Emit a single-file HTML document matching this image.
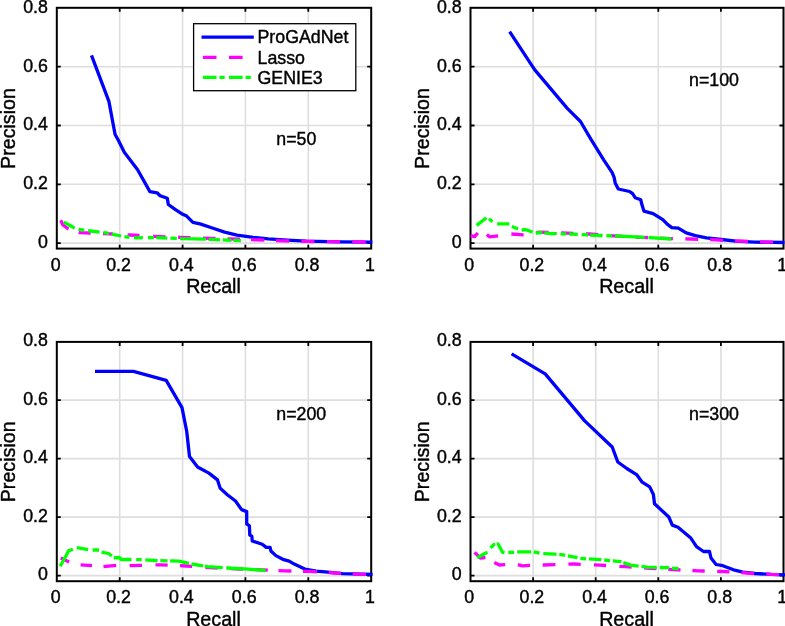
<!DOCTYPE html>
<html lang="en"><head><meta charset="utf-8"><title>Precision-Recall curves</title>
<style>html,body{margin:0;padding:0;background:#fff}body{width:785px;height:626px;overflow:hidden}svg{display:block}text{font-family:"Liberation Sans",Arial,Helvetica,sans-serif;fill:#000;stroke:#000;stroke-width:0.4px}.t{font-size:17.8px}.l{font-size:19.7px}.g{stroke:#dedede;stroke-width:1.6;fill:none}.k{stroke:#000;stroke-width:2;fill:none}.tk{stroke:#000;stroke-width:1.8;fill:none}.c{fill:none;stroke-width:3.3;stroke-linejoin:round}.b{stroke:#0000ff}.m{stroke:#ff00ff;stroke-dasharray:13 12}.gr{stroke:#00ff00;stroke-dasharray:11 3.5 5 3.5}.g2{stroke:#00ff00}.m2{stroke:#ff00ff}</style></head><body>
<svg width="785" height="626" viewBox="0 0 785 626">
<rect width="785" height="626" fill="#fff"/>
<path class="g" d="M119.7 7.8 V248.7 M182.6 7.8 V248.7 M245.4 7.8 V248.7 M308.3 7.8 V248.7 M56.8 243.1 H371.2 M56.8 184.3 H371.2 M56.8 125.5 H371.2 M56.8 66.7 H371.2"/>
<path class="tk" d="M119.7 248.7 v-4 M119.7 7.8 v4 M182.6 248.7 v-4 M182.6 7.8 v4 M245.4 248.7 v-4 M245.4 7.8 v4 M308.3 248.7 v-4 M308.3 7.8 v4 M56.8 243.1 h4 M371.2 243.1 h-4 M56.8 184.3 h4 M371.2 184.3 h-4 M56.8 125.5 h4 M371.2 125.5 h-4 M56.8 66.7 h4 M371.2 66.7 h-4"/>
<rect class="k" x="56.8" y="7.8" width="314.4" height="240.8"/>
<path class="c b" d="M91.5 55.3 L108.9 101.4 L115.1 134.5 L118.2 140.0 L124.3 152.3 L137.6 169.7 L149.9 191.6 L157.1 192.8 L160.1 195.7 L167.3 198.3 L168.3 204.5 L175.5 209.6 L181.6 213.7 L186.7 216.1 L192.9 222.3 L200.0 223.9 L212.3 228.0 L224.6 232.1 L236.9 235.1 L253.2 237.3 L268.2 238.8 L287.3 240.2 L306.4 241.2 L340.0 241.8 L372.4 242.1"/>
<path class="c m2" d="M60.7 220.2 L63.0 225.0 L67.7 228.5 L68.5 229.0 M78.6 232.4 L80.0 232.7 L90.0 233.0 L90.7 233.0 M103.0 233.5 L110.0 233.8 L113.0 234.0 M127.6 234.9 L130.0 235.0 L139.5 235.5 M153.0 236.3 L165.5 236.8 M178.0 237.2 L180.0 237.3 L190.5 237.7 M203.0 238.1 L212.0 238.4 L215.5 238.5 M227.5 238.8 L240.0 239.2 M251.0 239.7 L257.0 239.9 L264.4 240.2 M275.9 240.6 L282.0 240.8 L289.2 241.0 M301.4 241.3 L306.0 241.4 L314.4 241.5 M327.0 241.6 L340.0 241.8 M352.2 241.9 L365.8 242.0"/>
<path class="c g2" d="M63.9 222.1 L74.1 227.8 L74.7 228.0 M78.6 229.1 L80.5 229.7 L84.3 230.2 M88.1 230.7 L90.7 231.0 L99.6 232.1 M103.4 232.6 L106.0 232.9 L109.1 233.5 M111.7 234.1 L118.7 235.5 L121.2 236.0 M124.4 236.6 L126.3 237.0 L129.5 237.2 M134.0 237.6 L136.6 237.8 L142.9 237.7 M148.0 237.7 L153.8 237.6 M156.4 237.7 L167.2 238.1 M170.4 238.2 L176.8 238.4 M180.0 238.5 L181.6 238.6 L206.0 239.2 M208.6 239.3 L212.3 239.4 L220.0 239.8 M222.6 239.9 L231.5 240.3 M233.4 240.4 L240.9 240.7"/>
<text class="t" text-anchor="middle" x="55.6" y="270.8">0</text>
<text class="t" text-anchor="middle" x="118.5" y="270.8">0.2</text>
<text class="t" text-anchor="middle" x="181.4" y="270.8">0.4</text>
<text class="t" text-anchor="middle" x="244.2" y="270.8">0.6</text>
<text class="t" text-anchor="middle" x="307.1" y="270.8">0.8</text>
<text class="t" text-anchor="middle" x="370.0" y="270.8">1</text>
<text class="t" text-anchor="end" x="47.9" y="247.9">0</text>
<text class="t" text-anchor="end" x="47.9" y="189.1">0.2</text>
<text class="t" text-anchor="end" x="47.9" y="130.3">0.4</text>
<text class="t" text-anchor="end" x="47.9" y="71.5">0.6</text>
<text class="t" text-anchor="end" x="47.9" y="12.7">0.8</text>
<text class="l" text-anchor="middle" x="213.5" y="293.3">Recall</text>
<text class="l" text-anchor="middle" transform="translate(14.8 128.5) rotate(-90)">Precision</text>
<text class="t" x="276.3" y="145.0">n=50</text>
<path class="g" d="M533.1 7.8 V248.7 M595.7 7.8 V248.7 M658.3 7.8 V248.7 M720.9 7.8 V248.7 M470.5 243.1 H783.5 M470.5 184.3 H783.5 M470.5 125.5 H783.5 M470.5 66.7 H783.5"/>
<path class="tk" d="M533.1 248.7 v-4 M533.1 7.8 v4 M595.7 248.7 v-4 M595.7 7.8 v4 M658.3 248.7 v-4 M658.3 7.8 v4 M720.9 248.7 v-4 M720.9 7.8 v4 M470.5 243.1 h4 M783.5 243.1 h-4 M470.5 184.3 h4 M783.5 184.3 h-4 M470.5 125.5 h4 M783.5 125.5 h-4 M470.5 66.7 h4 M783.5 66.7 h-4"/>
<rect class="k" x="470.5" y="7.8" width="313.0" height="240.8"/>
<path class="c b" d="M509.6 31.7 L534.6 69.6 L567.3 108.4 L580.5 121.5 L590.7 138.9 L604.0 160.4 L612.2 172.6 L614.2 177.7 L615.2 182.9 L618.3 189.0 L629.6 191.5 L632.6 193.7 L635.3 197.8 L640.8 199.8 L641.8 204.3 L643.9 211.1 L653.1 213.6 L662.8 219.6 L667.2 224.2 L671.8 227.6 L678.3 228.1 L686.2 232.9 L695.4 235.6 L706.5 237.9 L721.3 239.5 L736.0 241.2 L754.5 242.1 L784.5 242.5"/>
<path class="c m2" d="M470.6 235.6 L474.7 236.6 L477.7 233.0 M486.9 234.6 L489.5 236.8 L498.1 235.8 M511.4 234.0 L523.6 234.8 M536.2 232.7 L539.4 232.2 L548.6 232.5 M561.1 233.0 L566.9 233.2 L573.5 233.4 M585.9 233.9 L589.3 234.0 L598.3 234.7 M610.8 235.7 L613.8 235.9 L623.2 236.4 M635.6 237.1 L640.0 237.3 L648.0 237.6 M660.5 238.2 L671.0 238.6 L672.9 238.6 M685.3 238.9 L691.0 239.0 L698.2 239.3 M710.2 239.7 L716.0 239.9 L723.1 240.3 M735.1 240.9 L741.0 241.2 L748.0 241.5 M760.0 241.9 L766.0 242.1 L773.0 242.2"/>
<path class="c g2" d="M476.7 225.4 L486.4 217.7 M489.0 218.8 L492.5 221.8 M497.1 223.9 L509.3 223.9 M511.9 226.4 L518.0 229.0 M521.6 230.0 L526.1 229.7 L532.3 232.0 L532.6 232.1 M535.7 233.0 L535.8 233.0 L542.4 232.7 M544.3 232.9 L550.6 233.6 L556.8 233.7 M560.6 233.8 L566.3 233.9 M569.2 234.0 L571.0 234.0 L577.8 234.4 M581.6 234.6 L588.3 234.9 M590.2 235.0 L595.5 235.3 L602.6 235.5 M606.4 235.7 L612.2 235.9 M615.0 236.0 L625.0 236.3 L644.7 237.3 M648.5 237.5 L650.0 237.6 L671.4 239.0"/>
<text class="t" text-anchor="middle" x="469.3" y="270.8">0</text>
<text class="t" text-anchor="middle" x="531.9" y="270.8">0.2</text>
<text class="t" text-anchor="middle" x="594.5" y="270.8">0.4</text>
<text class="t" text-anchor="middle" x="657.1" y="270.8">0.6</text>
<text class="t" text-anchor="middle" x="719.7" y="270.8">0.8</text>
<text class="t" text-anchor="middle" x="782.3" y="270.8">1</text>
<text class="t" text-anchor="end" x="461.6" y="247.9">0</text>
<text class="t" text-anchor="end" x="461.6" y="189.1">0.2</text>
<text class="t" text-anchor="end" x="461.6" y="130.3">0.4</text>
<text class="t" text-anchor="end" x="461.6" y="71.5">0.6</text>
<text class="t" text-anchor="end" x="461.6" y="12.7">0.8</text>
<text class="l" text-anchor="middle" x="626.5" y="293.3">Recall</text>
<text class="l" text-anchor="middle" transform="translate(428.5 128.5) rotate(-90)">Precision</text>
<text class="t" x="689.0" y="86.3">n=100</text>
<path class="g" d="M119.7 341.9 V581.2 M182.6 341.9 V581.2 M245.4 341.9 V581.2 M308.3 341.9 V581.2 M56.8 575.6 H371.2 M56.8 517.1 H371.2 M56.8 458.6 H371.2 M56.8 400.1 H371.2"/>
<path class="tk" d="M119.7 581.2 v-4 M119.7 341.9 v4 M182.6 581.2 v-4 M182.6 341.9 v4 M245.4 581.2 v-4 M245.4 341.9 v4 M308.3 581.2 v-4 M308.3 341.9 v4 M56.8 575.6 h4 M371.2 575.6 h-4 M56.8 517.1 h4 M371.2 517.1 h-4 M56.8 458.6 h4 M371.2 458.6 h-4 M56.8 400.1 h4 M371.2 400.1 h-4"/>
<rect class="k" x="56.8" y="341.9" width="314.4" height="239.3"/>
<path class="c b" d="M95.0 371.4 L133.5 371.4 L166.2 380.4 L182.0 407.6 L186.7 431.2 L189.5 456.5 L197.6 467.0 L208.9 473.1 L217.5 479.9 L220.1 488.1 L227.3 494.8 L235.5 501.0 L241.6 509.6 L246.7 511.6 L246.7 523.9 L249.4 525.9 L249.8 535.1 L251.8 536.2 L252.3 541.0 L262.2 544.2 L266.2 547.4 L270.1 547.4 L270.9 551.0 L275.9 555.6 L282.8 559.3 L289.2 561.1 L294.2 564.1 L304.8 569.0 L316.2 571.1 L327.8 572.2 L342.7 573.7 L372.6 574.4"/>
<path class="c m2" d="M60.8 557.9 L69.1 562.0 M80.6 564.9 L92.0 565.6 M103.5 566.6 L116.2 565.3 M129.6 565.6 L141.7 565.3 L142.0 565.3 M155.5 564.9 L161.0 564.8 L167.7 565.1 M180.0 565.7 L186.0 566.0 L192.2 566.4 M205.4 567.3 L210.0 567.6 L217.6 568.0 M230.5 568.6 L240.0 569.0 L243.0 569.1 M255.5 569.6 L262.0 569.9 L267.8 570.2 M278.5 570.6 L285.0 570.9 L291.4 571.0 M303.0 571.3 L310.0 571.4 L317.0 571.8 M328.7 572.6 L335.0 573.0 L341.0 573.3 M352.7 573.9 L359.0 574.2 L366.0 574.3"/>
<path class="c g2" d="M60.2 566.2 L65.9 556.0 L68.5 550.9 L72.9 549.3 M76.8 547.7 L88.2 549.6 M92.7 550.0 L99.0 550.0 M101.6 552.2 L108.6 553.5 L111.8 556.0 M113.7 557.9 L119.4 557.5 L121.3 559.5 L131.5 559.5 M136.2 559.6 L141.7 559.7 M145.3 559.9 L154.5 560.5 L157.6 560.6 M160.3 560.6 L167.5 560.8 M170.1 560.9 L178.9 561.1 L188.9 563.4 M191.5 564.0 L203.1 565.9 M204.9 566.2 L207.5 566.6 L222.7 567.6 M226.3 567.9 L227.8 568.0 L248.2 569.2 L265.5 570.5"/>
<text class="t" text-anchor="middle" x="55.6" y="603.3">0</text>
<text class="t" text-anchor="middle" x="118.5" y="603.3">0.2</text>
<text class="t" text-anchor="middle" x="181.4" y="603.3">0.4</text>
<text class="t" text-anchor="middle" x="244.2" y="603.3">0.6</text>
<text class="t" text-anchor="middle" x="307.1" y="603.3">0.8</text>
<text class="t" text-anchor="middle" x="370.0" y="603.3">1</text>
<text class="t" text-anchor="end" x="47.9" y="580.4">0</text>
<text class="t" text-anchor="end" x="47.9" y="521.9">0.2</text>
<text class="t" text-anchor="end" x="47.9" y="463.4">0.4</text>
<text class="t" text-anchor="end" x="47.9" y="404.9">0.6</text>
<text class="t" text-anchor="end" x="47.9" y="346.4">0.8</text>
<text class="l" text-anchor="middle" x="213.5" y="625.8">Recall</text>
<text class="l" text-anchor="middle" transform="translate(14.8 461.8) rotate(-90)">Precision</text>
<text class="t" x="276.3" y="419.8">n=200</text>
<path class="g" d="M533.1 341.9 V581.2 M595.7 341.9 V581.2 M658.3 341.9 V581.2 M720.9 341.9 V581.2 M470.5 575.6 H783.5 M470.5 517.1 H783.5 M470.5 458.6 H783.5 M470.5 400.1 H783.5"/>
<path class="tk" d="M533.1 581.2 v-4 M533.1 341.9 v4 M595.7 581.2 v-4 M595.7 341.9 v4 M658.3 581.2 v-4 M658.3 341.9 v4 M720.9 581.2 v-4 M720.9 341.9 v4 M470.5 575.6 h4 M783.5 575.6 h-4 M470.5 517.1 h4 M783.5 517.1 h-4 M470.5 458.6 h4 M783.5 458.6 h-4 M470.5 400.1 h4 M783.5 400.1 h-4"/>
<rect class="k" x="470.5" y="341.9" width="313.0" height="239.3"/>
<path class="c b" d="M511.6 353.8 L545.2 373.9 L584.7 420.9 L612.2 447.0 L617.8 462.0 L626.8 468.5 L636.6 474.6 L642.2 482.2 L649.7 486.9 L653.4 494.5 L654.5 503.7 L668.8 517.0 L672.3 525.1 L678.0 527.2 L690.5 537.7 L696.5 546.7 L703.5 551.5 L709.5 551.5 L711.0 558.0 L716.1 564.5 L722.8 565.7 L733.5 569.8 L742.9 572.2 L754.9 573.5 L771.0 574.4 L785.0 574.8"/>
<path class="c m2" d="M474.6 552.3 L480.3 558.0 L485.4 557.5 M494.3 562.5 L499.4 565.0 L505.1 564.6 M517.9 564.6 L522.3 565.9 L530.0 565.4 M542.7 565.0 L555.4 564.6 M568.4 564.2 L574.0 564.0 L580.7 564.3 M593.9 564.8 L600.0 565.1 L606.1 565.5 M619.4 566.3 L625.0 566.7 L631.6 567.1 M644.0 567.9 L650.0 568.3 L656.5 568.7 M668.3 569.4 L674.0 569.7 L680.5 570.0 M692.4 570.5 L698.0 570.8 L704.7 571.0 M717.2 571.3 L723.0 571.5 L729.5 571.9 M741.5 572.7 L748.0 573.1 L754.2 573.4 M766.3 574.1 L772.0 574.4 L779.0 574.6"/>
<path class="c g2" d="M477.1 557.8 L487.3 552.3 M490.5 547.8 L494.3 544.3 L495.2 544.2 M496.8 544.0 L497.9 543.8 L502.6 552.3 L504.5 552.7 M508.3 552.5 L514.0 552.3 M517.2 551.9 L531.2 551.9 M533.8 551.9 L539.5 553.2 M543.3 553.6 L555.4 554.2 L556.5 554.3 M559.3 554.5 L563.3 554.9 L565.1 555.3 M567.9 555.8 L577.5 557.7 M580.4 558.2 L581.7 558.5 L586.1 558.8 M589.0 558.9 L600.0 559.6 L601.4 559.7 M604.2 560.0 L610.0 560.6 M612.8 560.9 L620.4 561.6 L621.4 561.9 M623.3 562.6 L630.6 565.1 L638.6 566.1 M641.5 566.4 L646.9 567.1 L656.8 567.4 M659.7 567.5 L667.3 567.7 L669.2 567.9 M672.0 568.1 L678.5 568.7"/>
<text class="t" text-anchor="middle" x="469.3" y="603.3">0</text>
<text class="t" text-anchor="middle" x="531.9" y="603.3">0.2</text>
<text class="t" text-anchor="middle" x="594.5" y="603.3">0.4</text>
<text class="t" text-anchor="middle" x="657.1" y="603.3">0.6</text>
<text class="t" text-anchor="middle" x="719.7" y="603.3">0.8</text>
<text class="t" text-anchor="middle" x="782.3" y="603.3">1</text>
<text class="t" text-anchor="end" x="461.6" y="580.4">0</text>
<text class="t" text-anchor="end" x="461.6" y="521.9">0.2</text>
<text class="t" text-anchor="end" x="461.6" y="463.4">0.4</text>
<text class="t" text-anchor="end" x="461.6" y="404.9">0.6</text>
<text class="t" text-anchor="end" x="461.6" y="346.4">0.8</text>
<text class="l" text-anchor="middle" x="626.5" y="625.8">Recall</text>
<text class="l" text-anchor="middle" transform="translate(428.5 461.8) rotate(-90)">Precision</text>
<text class="t" x="689.0" y="419.8">n=300</text>
<rect x="193.6" y="23.7" width="162.2" height="67" fill="#fff" stroke="#000" stroke-width="1.3"/>
<path class="c b" d="M201.5 37.2 H253.8"/>
<path class="c m" style="stroke-dasharray:13.6 12.5" d="M202.9 57.4 H253.8"/>
<path class="c gr" style="stroke-dasharray:13.6 3 5.2 4.3" d="M202.9 77.4 H253.8"/>
<text class="t" x="257.5" y="43.4">ProGAdNet</text>
<text class="t" x="257.5" y="63.5">Lasso</text>
<text class="t" x="257.5" y="83.6">GENIE3</text>
</svg></body></html>
